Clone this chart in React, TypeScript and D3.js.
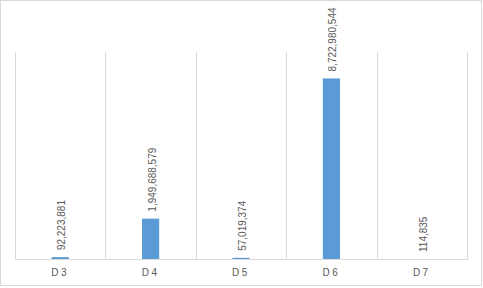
import React from "react";
import * as d3 from "d3";

const categories = ["D3", "D4", "D5", "D6", "D7"];
const values = [92223881, 1949688579, 57019374, 8722980544, 114835];
const yMax = 10000000000;

const W = 483;
const H = 288;
const margin = { left: 15, right: 16, top: 52, bottom: 29 };

export default function App() {
  const x = d3
    .scaleBand<string>()
    .domain(categories)
    .range([margin.left, W - margin.right])
    .paddingInner(0)
    .paddingOuter(0);
  const y = d3
    .scaleLinear()
    .domain([0, yMax])
    .range([H - margin.bottom, margin.top]);
  const fmt = d3.format(",");
  const step = x.step();
  const barW = step * 0.19;
  const bounds = d3.range(categories.length + 1).map((i) => margin.left + i * step);
  const y0 = y(0);

  return (
    <div style={{ position: "fixed", left: 0, top: 0, width: W, height: H, background: "#fff" }}>
      <svg width={W} height={H} style={{ display: "block" }}>
        <rect x={0.5} y={0.5} width={W - 2} height={H - 3} fill="#fff" stroke="#d9d9d9" />
        {bounds.map((bx, i) => (
          <line key={i} x1={Math.round(bx) + 0.5} x2={Math.round(bx) + 0.5} y1={y(yMax)} y2={y0} stroke="#d9d9d9" strokeWidth={1} />
        ))}
        {categories.map((c, i) => {
          const cx = (x(c) as number) + step / 2;
          const top = y(values[i]);
          return (
            <g key={c}>
              <rect x={cx - barW / 2} y={top} width={barW} height={y0 - top} fill="#5b9bd5" />
              <text
                transform={`translate(${cx + 5},${top - 7}) rotate(-90)`}
                fontFamily="Liberation Sans, Arial, sans-serif"
                fontSize={10}
                fill="#595959"
                textAnchor="start"
              >
                {fmt(values[i])}
              </text>
              <text
                x={cx}
                y={y0 + 17}
                textAnchor="middle"
                fontFamily="Liberation Sans, Arial, sans-serif"
                fontSize={10}
                letterSpacing={2.5}
                fill="#595959"
              >
                {c}
              </text>
            </g>
          );
        })}
        <line x1={margin.left} x2={W - margin.right + 1} y1={Math.round(y0) + 0.5} y2={Math.round(y0) + 0.5} stroke="#d9d9d9" />
      </svg>
    </div>
  );
}
